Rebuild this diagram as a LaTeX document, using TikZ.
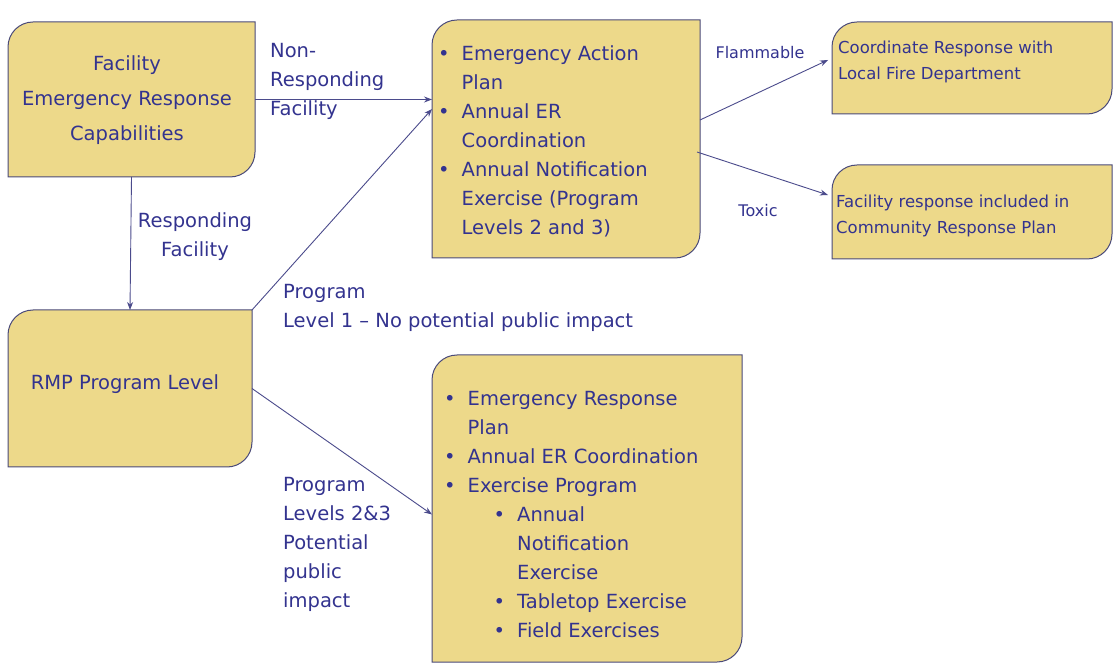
\documentclass[tikz,border=0pt]{standalone}
\usepackage{fontspec}
\setmainfont{DejaVu Sans}
\usetikzlibrary{arrows.meta}
\definecolor{boxfill}{HTML}{EDD98A}
\definecolor{boxline}{HTML}{4A4A7A}
\definecolor{txt}{HTML}{33338F}
\definecolor{arr}{HTML}{4B4B8C}
\newcommand{\dbox}[1]{%
  \filldraw[fill=boxfill,draw=boxline,line width=1pt]
  (#1.south west) -- ([yshift=-25pt]#1.north west) arc[start angle=180,end angle=90,radius=25pt]
  -- (#1.north east) -- ([yshift=25pt]#1.south east) arc[start angle=0,end angle=-90,radius=25pt] -- cycle;}
\begin{document}
\begin{tikzpicture}[x=1pt,y=1pt,
  frame/.style={inner sep=0pt,outer sep=0pt,anchor=south west},
  big/.style={text=txt,font=\fontsize{19.5}{29}\selectfont,inner sep=0pt},
  small/.style={text=txt,font=\fontsize{16.5}{26}\selectfont,inner sep=0pt},
  lab/.style={text=txt,font=\fontsize{19.5}{29}\selectfont,inner sep=0pt,align=left},
  slab/.style={text=txt,font=\fontsize{16}{20}\selectfont,inner sep=0pt},
  conn/.style={arr,line width=0.9pt,-{Stealth[length=8pt,width=6pt]}}]
\useasboundingbox (0,0) rectangle (1116,667);
\fill[white] (0,0) rectangle (1116,667);
% box frames
\node[frame,minimum width=247,minimum height=155] (A) at (8,490) {};
\node[frame,minimum width=244,minimum height=157] (B) at (8,200) {};
\node[frame,minimum width=268,minimum height=238] (C) at (432,409) {};
\node[frame,minimum width=310,minimum height=307] (D) at (432,5) {};
\node[frame,minimum width=280,minimum height=92] (E) at (832,553) {};
\node[frame,minimum width=280,minimum height=94] (F) at (832,408) {};
\dbox{A}\dbox{B}\dbox{C}\dbox{D}\dbox{E}\dbox{F}
% texts
\node[big,align=center,font=\fontsize{19.5}{35}\selectfont] (tA) at (127,567) {Facility\\Emergency Response\\Capabilities};
\node[big] (tB) at (125,283) {RMP Program Level};
\node[big,anchor=north west] (tC) at (438,627) {\begin{tabular}{@{}l@{\hspace{12pt}}l@{}}
•&Emergency Action\\ &Plan\\ •&Annual ER\\ &Coordination\\ •&Annual Notification\\ &Exercise (Program\\ &Levels 2 and 3)\end{tabular}};
\node[big,anchor=north west] (tD) at (444,282) {\begin{tabular}{@{}l@{\hspace{12pt}}l@{\hspace{12pt}}l@{}}
•&\multicolumn{2}{@{}l@{}}{Emergency Response}\\ &\multicolumn{2}{@{}l@{}}{Plan}\\
•&\multicolumn{2}{@{}l@{}}{Annual ER Coordination}\\
•&\multicolumn{2}{@{}l@{}}{Exercise Program}\\
&\hspace{26pt}•&Annual\\ &&Notification\\ &&Exercise\\ &\hspace{26pt}•&Tabletop Exercise\\ &\hspace{26pt}•&Field Exercises\end{tabular}};
\node[small,anchor=west,align=left] (tE) at (838,605) {Coordinate Response with\\Local Fire Department};
\node[small,anchor=west,align=left] (tF) at (836,451) {Facility response included in\\Community Response Plan};
% connectors
\draw[conn] (A.east) -- (A.east -| C.west) coordinate (cA);
\draw[conn] (A.south) -- (B.north);
\draw[conn] (B.north east) -- ([yshift=30pt]C.west);
\draw[conn] (B.east) -- ([yshift=-6pt]D.west);
\draw[conn] ([yshift=19pt]C.east) -- ([yshift=8pt,xshift=-4pt]E.west);
\draw[conn] ([yshift=-13pt,xshift=-3pt]C.east) -- ([yshift=17pt,xshift=-4pt]F.west);
% labels
\node[lab,anchor=north west] (l1) at (270,624) {Non-\\Responding\\Facility};
\node[lab,align=center] (l2) at (195,430) {Responding\\Facility};
\node[lab,anchor=north west] (l3) at (283,383) {Program\\Level 1 – No potential public impact};
\node[lab,anchor=north west] (l4) at (283,190) {Program\\Levels 2\&3\\Potential\\public\\impact};
\node[slab] (l5) at (760,614) {Flammable};
\node[slab] (l6) at (758,456) {Toxic};
\end{tikzpicture}
\end{document}
